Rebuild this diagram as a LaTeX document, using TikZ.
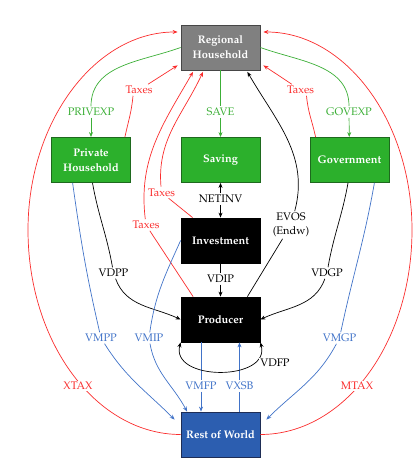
\documentclass[tikz,border=0pt]{standalone}
\usepackage[T1]{fontenc}
\usepackage{mathpazo}
\usetikzlibrary{arrows.meta}
\definecolor{redl}{RGB}{250,45,45}
\definecolor{greenl}{RGB}{60,175,55}
\definecolor{bluel}{RGB}{65,115,200}
\definecolor{boxgreen}{RGB}{44,176,44}
\definecolor{boxgreend}{RGB}{30,105,30}
\definecolor{boxgray}{RGB}{128,128,128}
\definecolor{boxgrayd}{RGB}{70,70,70}
\definecolor{boxblue}{RGB}{44,94,176}
\definecolor{boxblued}{RGB}{30,45,85}
\begin{document}
\begin{tikzpicture}[x=1pt,y=1pt,
  font=\fontsize{11}{14}\selectfont,
  line width=0.7pt,
  box/.style={draw, line width=0.8pt, minimum width=79pt, minimum height=45pt,
    align=center, text=white, font=\bfseries\fontsize{11}{15}\selectfont},
  graybox/.style={box, fill=boxgray, draw=boxgrayd},
  greenbox/.style={box, fill=boxgreen, draw=boxgreend},
  blackbox/.style={box, fill=black, draw=black},
  bluebox/.style={box, fill=boxblue, draw=boxblued},
  lab/.style={inner sep=1.5pt, align=center},
  arr/.style={-{Stealth[length=5pt,width=4pt]}},
  arrb/.style={{Stealth[length=5pt,width=4pt]}-{Stealth[length=5pt,width=4pt]}},
  rl/.style={draw=redl},
  gl/.style={draw=greenl},
  bl/.style={draw=bluel}]
\useasboundingbox (0,0) rectangle (418,465);
% boxes
\node[graybox]  (rh)   at (220.5,417.5) {Regional\\Household};
\node[greenbox] (ph)   at (91,305)      {Private\\Household};
\node[greenbox] (sav)  at (220.5,305)   {Saving};
\node[greenbox] (gov)  at (349.5,305)   {Government};
\node[blackbox] (inv)  at (220.5,224.5) {Investment};
\node[blackbox] (prod) at (220.5,145.5) {Producer};
\node[bluebox]  (row)  at (220.5,30.5)  {Rest of World};
% labels
\node[lab,text=greenl] (privexp) at (91,353)    {PRIVEXP};
\node[lab,text=greenl] (save)    at (220.5,353) {SAVE};
\node[lab,text=greenl] (govexp)  at (349,353)   {GOVEXP};
\node[lab,text=redl]   (tph)     at (139,375)   {Taxes};
\node[lab,text=redl]   (tgov)    at (300.5,375) {Taxes};
\node[lab,text=redl]   (tinv)    at (161.5,272.5) {Taxes};
\node[lab,text=redl]   (tprod)   at (146,240)   {Taxes};
\node[lab]             (netinv)  at (220.5,266) {NETINV};
\node[lab]             (evos)    at (291,240)   {EVOS\\(Endw)};
\node[lab]             (vdip)    at (220.5,186) {VDIP};
\node[lab]             (vdpp)    at (113.5,192) {VDPP};
\node[lab]             (vdgp)    at (327,192)   {VDGP};
\node[lab,text=bluel]  (vmpp)    at (101,127)   {VMPP};
\node[lab,text=bluel]  (vmip)    at (149,127)   {VMIP};
\node[lab,text=bluel]  (vmgp)    at (339.5,127) {VMGP};
\node[lab,text=bluel]  (vmfp)    at (201,79)    {VMFP};
\node[lab,text=bluel]  (vxsb)    at (239.5,79)  {VXSB};
\node[lab,text=redl]   (xtax)    at (78,79)     {XTAX};
\node[lab,text=redl]   (mtax)    at (357,79)    {MTAX};
\coordinate (xw) at (28,235);
\coordinate (mw) at (412,235);
% green flows
\draw[gl] (rh.west) to[out=200,in=90] (privexp);
\draw[gl,arr] (privexp) -- (ph);
\draw[gl] (rh) -- (save);
\draw[gl,arr] (save) -- (sav);
\draw[gl] (rh.east) to[out=-20,in=90] (govexp);
\draw[gl,arr] (govexp) -- (gov);
% taxes
\draw[rl] ([xshift=-6pt]ph.north east) to[out=78,in=-95] ([xshift=-6pt]tph.south);
\draw[rl,arr] (tph) -- ([shift={(-3pt,5pt)}]rh.south west);
\draw[rl] ([xshift=6pt]gov.north west) to[out=102,in=-85] ([xshift=6pt]tgov.south);
\draw[rl,arr] (tgov) -- ([shift={(3pt,5pt)}]rh.south east);
\draw[rl] (tinv) -- ([xshift=12pt]inv.north west);
\draw[rl,arr] (tinv) to[out=95,in=-115] ([shift={(-17.5pt,-1.5pt)}]rh.south);
\draw[rl] (tprod) -- ([xshift=12.5pt]prod.north west);
\draw[rl,arr] (tprod) to[out=97,in=-120] ([shift={(-27.5pt,-1.5pt)}]rh.south);
% EVOS
\draw[arr] (evos) to[out=75,in=-60] ([shift={(-13pt,-1.5pt)}]rh.south east);
\draw (evos) -- ([xshift=-13pt]prod.north east);
% NETINV, VDIP
\draw[arr] (netinv) -- (sav);
\draw[arr] (netinv) -- (inv);
\draw (inv) -- (vdip);
\draw[arr] (vdip) -- (prod);
% VDPP, VDGP
\draw ([xshift=1.5pt]ph.south) to[out=-80,in=100] (vdpp);
\draw[arr] (vdpp) to[out=-70,in=155] (prod.west);
\draw ([xshift=-1.5pt]gov.south) to[out=-100,in=80] (vdgp);
\draw[arr] (vdgp) to[out=-110,in=25] (prod.east);
% blue flows
\draw[bl] ([xshift=21.5pt]ph.south west) to[out=-82,in=103] (vmpp);
\draw[bl,arr] (vmpp) to[out=-58,in=135] ([shift={(-6pt,-8pt)}]row.north west);
\draw[bl] (inv.west) to[out=-114,in=82] (vmip);
\draw[bl,arr] (vmip) to[out=-80,in=118] ([xshift=6.5pt]row.north west);
\draw[bl] ([xshift=-15pt]gov.south east) to[out=-100,in=78] (vmgp);
\draw[bl,arr] (vmgp) to[out=-118,in=45] ([shift={(6pt,-8pt)}]row.north east);
\draw[bl] ([xshift=-19.5pt]prod.south) -- (vmfp);
\draw[bl,arr] (vmfp) -- ([xshift=-19.5pt]row.north);
\draw[bl] ([xshift=19pt]row.north) -- (vxsb);
\draw[bl,arr] (vxsb) -- ([xshift=19pt]prod.south);
% VDFP loop
\draw[arrb] (prod.south east) to[out=-75,in=-105,looseness=1.3] (prod.south west);
\node[lab,fill=white] (vdfp) at (275,102) {VDFP};
% outer tax loops
\draw[rl,arr] (row.west) .. controls +(-84,0) and +(0,-113) .. (xw)
  .. controls +(0,109) and +(-82,0) .. ([shift={(-3pt,15.5pt)}]rh.west);
\draw[rl,arr] (row.east) .. controls +(84,0) and +(0,-113) .. (mw)
  .. controls +(0,109) and +(82,0) .. ([shift={(3pt,15.5pt)}]rh.east);
\node[lab,fill=white,text=redl] at (xtax) {XTAX};
\node[lab,fill=white,text=redl] at (mtax) {MTAX};
\end{tikzpicture}
\end{document}
